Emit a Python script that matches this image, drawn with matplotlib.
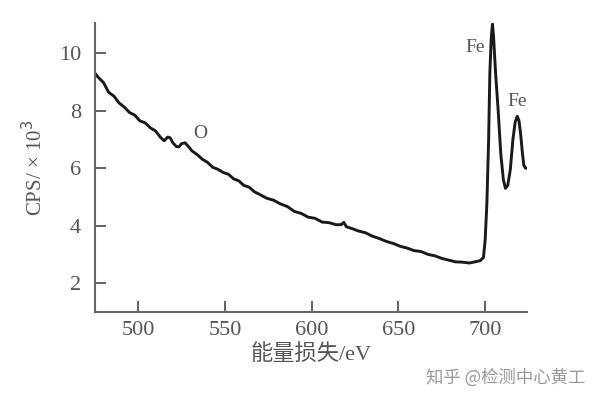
import matplotlib
matplotlib.use("Agg")
import matplotlib.pyplot as plt

# EELS spectrum (energy loss in eV, CPS x 10^3)
energy = [475, 477, 480, 483, 486, 489, 492, 495, 498, 501, 504, 507, 510, 513,
          515, 517, 518.5, 520, 522, 523.5, 525, 527, 529, 531, 534, 537, 540,
          543, 546, 549, 552, 555, 558, 561, 564, 567, 570, 574, 578, 582, 586,
          590, 594, 598, 602, 606, 610, 614, 617, 618.5, 620, 623, 627, 631,
          635, 639, 643, 647, 651, 655, 659, 663, 667, 671, 675, 679, 683, 687,
          691, 694, 697, 699, 700, 701, 702, 702.7, 703.5, 704.2, 704.8, 706,
          707.5, 709, 710.5, 711.7, 713, 714.5, 716, 717.3, 718.5, 719.5, 720.5,
          721.5, 722.3, 723.2, 724.3]
cps = [9.30, 9.15, 8.97, 8.63, 8.50, 8.26, 8.12, 7.93, 7.84, 7.64, 7.57, 7.40,
       7.29, 7.06, 6.95, 7.08, 7.05, 6.88, 6.75, 6.74, 6.85, 6.88, 6.75, 6.60,
       6.47, 6.31, 6.20, 6.03, 5.96, 5.85, 5.79, 5.63, 5.56, 5.40, 5.34, 5.18,
       5.09, 4.96, 4.89, 4.76, 4.67, 4.50, 4.43, 4.30, 4.26, 4.13, 4.11, 4.04,
       4.04, 4.12, 3.97, 3.91, 3.82, 3.76, 3.64, 3.56, 3.46, 3.39, 3.29, 3.23,
       3.14, 3.11, 3.01, 2.96, 2.87, 2.81, 2.75, 2.74, 2.71, 2.75, 2.79, 2.90,
       3.50, 4.80, 7.00, 9.30, 10.50, 11.00, 10.60, 9.30, 8.00, 6.50, 5.60,
       5.30, 5.40, 5.95, 7.00, 7.60, 7.80, 7.65, 7.15, 6.50, 6.10, 6.00, 6.00]

x_ticks = [500, 550, 600, 650, 700]
y_ticks = [2, 4, 6, 8, 10]

peak_labels = ["O", "Fe", "Fe"]
peak_x = [535.7, 694.5, 718.5]
peak_y = [7.2, 10.2, 8.3]

plt.rcParams["font.family"] = ["Liberation Serif", "Noto Sans CJK SC"]
grey = "#555555"

fig = plt.figure(figsize=(6, 4.03), dpi=100)
ax = fig.add_axes([0.158, 0.225, 0.72, 0.719])

ax.plot(energy, cps, color="#1a1a1a", lw=2.1)

for lab, px, py in zip(peak_labels, peak_x, peak_y):
    ax.text(px, py, lab, fontsize=14, color=grey, ha="center", va="center")

ax.set_xlim(475, 724)
ax.set_ylim(1, 11.05)
ax.set_xticks(x_ticks)
ax.set_yticks(y_ticks)
ax.tick_params(direction="in", length=8, width=1.3, colors=grey,
               labelsize=16, pad=6)
ax.tick_params(axis="y", pad=10)

for side in ["top", "right"]:
    ax.spines[side].set_visible(False)
for side in ["left", "bottom"]:
    ax.spines[side].set_color("#666666")
    ax.spines[side].set_linewidth(1.5)

ax.set_xlabel("能量损失/eV", fontsize=16, color=grey, labelpad=3)
ax.set_ylabel("CPS/ × 10$^3$", fontsize=15, color=grey, labelpad=8)

fig.text(0.975, 0.062, "知乎 @检测中心黄工", fontsize=12.5, color="#999999",
         ha="right", va="center", family=["Noto Sans CJK SC"])

fig.savefig("out.png", dpi=100)
